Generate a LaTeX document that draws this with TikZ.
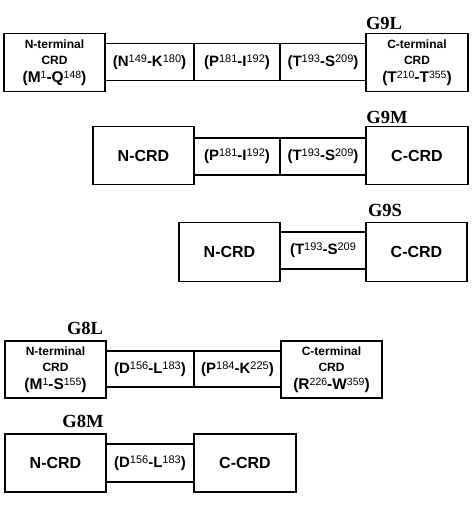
\documentclass[tikz,border=0pt]{standalone}
\usepackage{fontspec}
\setmainfont{Liberation Sans}
\newfontfamily\labfont{Liberation Serif}
\newcommand\su[1]{\raisebox{0.5ex}{\fontsize{11}{11}\selectfont\mdseries #1}}
\newcommand\sus[1]{\raisebox{0.5ex}{\fontsize{10.5}{10}\selectfont\mdseries #1}}
\newcommand\termtxt[3]{{\fontsize{12}{13}\selectfont #1}\\[-2pt]{\fontsize{12}{13}\selectfont #2}\\[0pt]{\fontsize{15.5}{16}\selectfont #3}}
\tikzset{
  big/.style={draw, line width=1.8pt, fill=white, minimum width=101pt, minimum height=58pt, inner sep=0pt, align=center, font=\bfseries\fontsize{16}{18}\selectfont},
  seg/.style={draw, line width=1.3pt, minimum height=37pt, inner sep=0pt, font=\bfseries\fontsize{15}{16}\selectfont},
  lab/.style={font=\labfont\bfseries\fontsize{18.5}{19}\selectfont, inner sep=0pt}
}
\begin{document}
\begin{tikzpicture}[x=1pt,y=-1pt]
\fill[white] (0,0) rectangle (474,514);
\useasboundingbox (0,0) rectangle (474,514);
% G9L
\node[seg, minimum width=89pt] (l1) at (149.5,62) {(N\su{149}-K\su{180})};
\node[seg, minimum width=86pt] (l2) at (237,62) {(P\su{181}-I\su{192})};
\node[seg, minimum width=86pt] (l3) at (323,62) {(T\su{193}-S\su{209})};
\node[big] (l0) at (54.5,62.5) {\termtxt{N-terminal}{CRD}{(M\sus{1}-Q\sus{148})}};
\node[big, minimum width=102pt] (l4) at (417,62.5) {\termtxt{C-terminal}{CRD}{(T\sus{210}-T\sus{355})}};
\node[lab] (g9l) at (384,23) {G9L};
% G9M
\node[seg, minimum width=86pt] (m1) at (237,156.5) {(P\su{181}-I\su{192})};
\node[seg, minimum width=86pt] (m2) at (323,156.5) {(T\su{193}-S\su{209})};
\node[big] (m0) at (143.5,155.5) {N-CRD};
\node[big, minimum width=102pt] (m3) at (417,155.5) {C-CRD};
\node[lab] (g9m) at (387,117) {G9M};
% G9S
\node[seg, minimum width=86pt] (s1) at (323,250.5) {(T\su{193}-S\su{209}};
\node[big, minimum height=59pt] (s0) at (229.5,252) {N-CRD};
\node[big, minimum height=59pt] (s2) at (416.5,252) {C-CRD};
\node[lab] (g9s) at (385,210) {G9S};
% G8L
\node[seg, minimum width=88pt, minimum height=36pt] (a1) at (150,369) {(D\su{156}-L\su{183})};
\node[seg, minimum width=87pt, minimum height=36pt] (a2) at (237.5,369) {(P\su{184}-K\su{225})};
\node[big, minimum height=57pt] (a0) at (55.5,369.5) {\termtxt{N-terminal}{CRD}{(M\sus{1}-S\sus{155})}};
\node[big, minimum height=57pt] (a3) at (331.5,369.5) {\termtxt{C-terminal}{CRD}{(R\sus{226}-W\sus{359})}};
\node[lab] (g8l) at (85,328) {G8L};
% G8M
\node[seg, minimum width=88pt, minimum height=38pt] (b1) at (150,463) {(D\su{156}-L\su{183})};
\node[big] (b0) at (55.5,463) {N-CRD};
\node[big, minimum width=102pt] (b2) at (245,463) {C-CRD};
\node[lab] (g8m) at (83,421) {G8M};
\end{tikzpicture}
\end{document}
